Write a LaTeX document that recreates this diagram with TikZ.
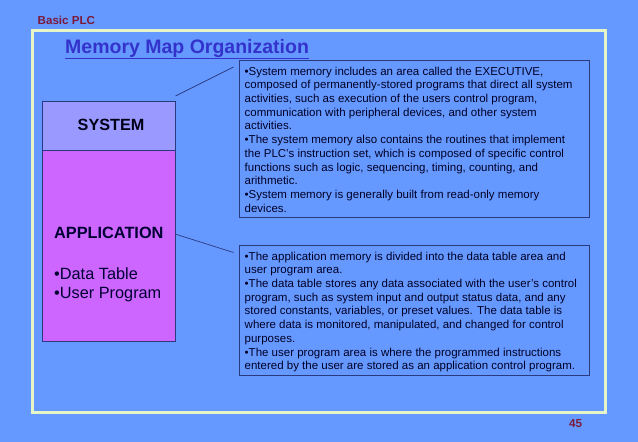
\documentclass[tikz,border=0pt]{standalone}
\usepackage{fontspec}
\setmainfont{Liberation Sans}
\usepackage{xcolor}
\usetikzlibrary{positioning,calc}
\definecolor{slidebg}{HTML}{6699FF}
\definecolor{framecol}{HTML}{E6F5C8}
\definecolor{syscol}{HTML}{9999FF}
\definecolor{appcol}{HTML}{CC66FF}
\definecolor{edgecol}{HTML}{2A3A80}
\definecolor{headcol}{HTML}{7A1A3C}
\definecolor{titlecol}{HTML}{3333CC}
\tikzset{
    membox/.style={draw=edgecol, line width=0.8pt, minimum width=133pt, anchor=north west, inner sep=0pt, outer sep=0pt},
    notebox/.style={draw=edgecol, line width=0.8pt, anchor=north west, inner sep=0pt, outer sep=0pt},
    notetext/.style={anchor=north west, inner sep=0pt, align=left, font=\fontsize{11.5}{13.72}\selectfont, text=black!85!blue},
    headtext/.style={font=\bfseries\fontsize{11.6}{14}\selectfont, text=headcol, inner sep=0pt, anchor=base west},
    leader/.style={draw=edgecol, line width=0.7pt}
}
\begin{document}
\begin{tikzpicture}[x=1pt, y=-1pt]
    \path[use as bounding box, fill=slidebg] (0,0) rectangle (638,442);
    \node[draw=framecol, line width=3pt, minimum width=573pt, minimum height=382pt, anchor=north west, inner sep=0pt, outer sep=0pt] (frame) at (32.5,30) {};

    \node[headtext] (head) at (37.5,24.5) {Basic PLC};
    \node[headtext] (page) at (569,427.5) {45};
    \node[anchor=base west, inner sep=0pt, font=\bfseries\fontsize{19.5}{24}\selectfont, text=titlecol] (title) at (65,53) {\underline{Memory Map Organization}};

    \node[membox, fill=syscol, minimum height=49pt] (sys) at (42.5,101) {};
    \node[membox, fill=appcol, minimum height=191.5pt] (app) at (42.5,150) {};
    \node[font=\bfseries\fontsize{16.2}{20}\selectfont, inner sep=0pt, text=black!90!blue] (syslabel) at (111,124.5) {SYSTEM};
    \node[anchor=north west, inner sep=0pt, align=left, font=\fontsize{16.3}{19.7}\selectfont, text=black!80!blue] (applabel) at (54,226.5) {\textbf{APPLICATION}\\[21.5pt]•Data Table\\•User Program};

    \node[notebox, minimum width=350.5pt, minimum height=156.5pt] (sysnote) at (239,60.5) {};
    \node[notetext] (systext) at (244.5,66.5) {•System memory includes an area called the EXECUTIVE,\\
composed of permanently-stored programs that direct all system\\
activities, such as execution of the users control program,\\
communication with peripheral devices, and other system\\
activities.\\
•The system memory also contains the routines that implement\\
the PLC’s instruction set, which is composed of specific control\\
functions such as logic, sequencing, timing, counting, and\\
arithmetic.\\
•System memory is generally built from read-only memory\\
devices.};

    \node[notebox, minimum width=350.5pt, minimum height=129.5pt] (appnote) at (239,245.5) {};
    \node[notetext] (apptext) at (244.5,251.5) {•The application memory is divided into the data table area and\\
user program area.\\
•The data table stores any data associated with the user’s control\\
program, such as system input and output status data, and any\\
stored constants, variables, or preset values. The data table is\\
where data is monitored, manipulated, and changed for control\\
purposes.\\
•The user program area is where the programmed instructions\\
entered by the user are stored as an application control program.};

    \coordinate (sysend) at (233.5,67);
    \coordinate (append) at (233.5,252.5);
    \coordinate (sysstart) at (175.5,96);
    \coordinate (appstart) at (175,234);
    \draw[leader] (sysstart) -- (sysend);
    \draw[leader] (appstart) -- (append);
\end{tikzpicture}
\end{document}
